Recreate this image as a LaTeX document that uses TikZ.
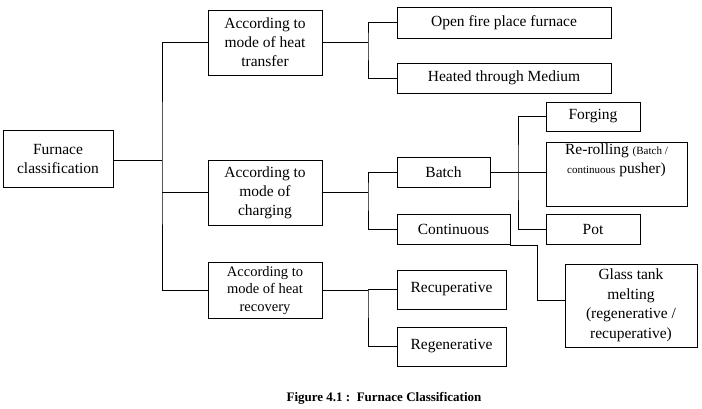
\documentclass[tikz,border=0pt]{standalone}
\usepackage{fontspec}
\setmainfont{Liberation Serif}
\begin{document}
\begin{tikzpicture}[x=1pt,y=-1pt,
  box/.style={draw,line width=0.8pt,inner sep=1pt,align=center,font=\fontsize{15.5}{19}\selectfont},
  ln/.style={line width=0.8pt}]
\useasboundingbox (0,0) rectangle (702,408);
\node[box,minimum width=110,minimum height=57] (fc) at (58,158.5) {Furnace\\classification};
\node[box,minimum width=114,minimum height=65] (ht) at (265,42.5) {According to\\mode of heat\\transfer};
\node[box,minimum width=114,minimum height=65] (ch) at (265,192.5) {According to\\mode of\\charging};
\node[box,minimum width=114,minimum height=56,font=\fontsize{14.5}{17.5}\selectfont] (hr) at (265,290.5) {According to\\mode of heat\\recovery};
\node[box,minimum width=214,minimum height=31] (of) at (504,22.5) {Open fire place furnace};
\node[box,minimum width=214,minimum height=30] (hm) at (504,78) {Heated through Medium};
\node[box,minimum width=93,minimum height=30] (ba) at (443.5,172) {Batch};
\node[box,minimum width=113,minimum height=30] (co) at (453.5,229) {Continuous};
\node[box,minimum width=109,minimum height=39] (rc) at (451.5,289.5) {Recuperative};
\node[box,minimum width=109,minimum height=39] (rg) at (451.5,346.5) {Regenerative};
\node[box,minimum width=94,minimum height=29] (fo) at (593,116.5) {Forging};
\node[box,minimum width=141,minimum height=64,anchor=north] (rr) at (616.5,142) {Re-rolling {\fontsize{11}{13}\selectfont(Batch /}\\{\fontsize{11}{13}\selectfont continuous} pusher)\\[12pt]};
\node[box,minimum width=94,minimum height=30] (po) at (593,229) {Pot};
\node[box,minimum width=132,minimum height=83,font=\fontsize{15.5}{19.5}\selectfont] (gt) at (631,305.5) {Glass tank\\melting\\(regenerative /\\recuperative)};
\node[font=\bfseries\fontsize{13}{15}\selectfont] (cap) at (384,398) {Figure 4.1 :\ \ Furnace Classification};
\coordinate (j1) at (162,160);
\draw[ln] (fc.east|-j1) -- (j1);
\draw[ln] (ht.west) -| (j1) |- (hr.west);
\draw[ln] (j1|-ch.west) -- (ch.west);
\coordinate (j2) at (368,42.5);
\draw[ln] (ht.east) -- (j2);
\draw[ln] (of.west) -| (j2) |- (hm.west);
\coordinate (j3) at (368,192.5);
\draw[ln] (ch.east) -- (j3);
\draw[ln] (ba.west) -| (j3) |- (co.west);
\coordinate (j4) at (368,290.5);
\draw[ln] (hr.east) -- (j4);
\draw[ln] (rc.west) -| (j4) |- (rg.west);
\coordinate (j5) at (518,172);
\draw[ln] (ba.east) -- (rr.west|-j5);
\draw[ln] (fo.west) -| (j5) |- (po.west);
\coordinate (j6) at (537,245);
\draw[ln] (co.east|-j6) -- (j6) |- (gt.west|-0,300);
\end{tikzpicture}
\end{document}
